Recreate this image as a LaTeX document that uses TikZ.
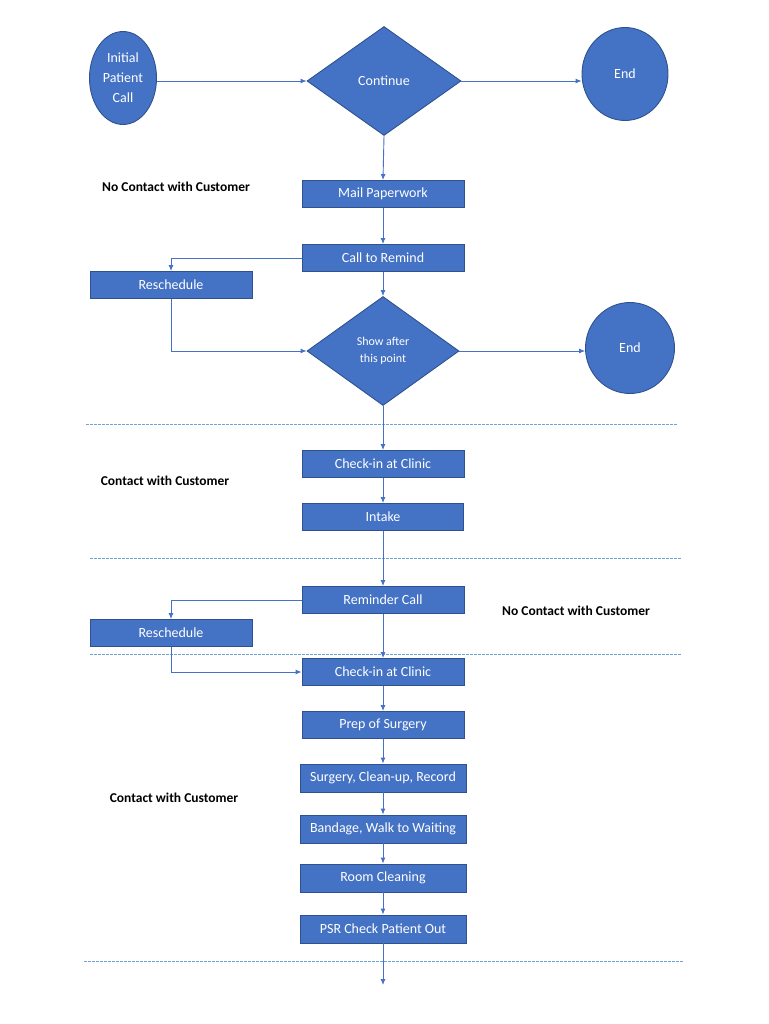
\documentclass[tikz,border=0pt]{standalone}
\usepackage{fontspec}
\setmainfont{Carlito}
\usetikzlibrary{shapes.geometric,arrows.meta}
\definecolor{bfill}{HTML}{4472C4}
\definecolor{bdraw}{HTML}{2F528F}
\definecolor{dline}{HTML}{6FA3D8}
\tikzset{
  box/.style={rectangle, fill=bfill, draw=bdraw, line width=0.9pt, text=white, font=\fontsize{14}{16}\selectfont, minimum width=162pt, minimum height=27pt, inner sep=0pt},
  wbox/.style={box, minimum width=166pt, minimum height=28pt},
  circ/.style={ellipse, fill=bfill, draw=bdraw, line width=0.9pt, text=white, font=\fontsize{14}{20}\selectfont, align=center, inner sep=0pt},
  dia/.style={diamond, fill=bfill, draw=bdraw, line width=0.9pt, text=white, align=center, inner sep=0pt, minimum width=154pt, minimum height=109pt},
  arr/.style={draw=bfill, line width=0.9pt, -{Latex[length=6pt,width=5pt]}},
  lab/.style={font=\bfseries\fontsize{13.5}{16}\selectfont, text=black},
  sep/.style={draw=dline, line width=0.6pt, dash pattern=on 2.5pt off 1.5pt}
}
\begin{document}
\begin{tikzpicture}[x=1pt,y=-1pt]
\useasboundingbox (0,0) rectangle (768,1024);
% top row
\node[circ, minimum width=67pt, minimum height=93pt] (init) at (123,78) {Initial\\Patient\\Call};
\node[dia, font=\fontsize{14}{16}\selectfont] (cont) at (384,81) {Continue};
\node[circ, minimum width=86pt, minimum height=93pt] (end1) at (625,74) {End};
\node[lab] (l1) at (176,187) {No Contact with Customer};
\node[box] (mail) at (383,194) {Mail Paperwork};
\node[box] (cr) at (383,258) {Call to Remind};
\node[box] (rs1) at (171,285) {Reschedule};
\node[dia, font=\fontsize{12}{17}\selectfont, minimum width=152pt] (show) at (383,351) {Show after\\this point};
\node[circ, minimum width=89pt, minimum height=91pt] (end2) at (630,348) {End};
\draw[sep] (86,424) -- (678,424);
\node[box] (ci1) at (383,464) {Check-in at Clinic};
\node[lab] (l2) at (165,481) {Contact with Customer};
\node[box, minimum width=161pt] (intake) at (383,517) {Intake};
\draw[sep] (90,558) -- (682,558);
\node[box] (rc) at (383,600) {Reminder Call};
\node[lab] (l3) at (576,611) {No Contact with Customer};
\node[box] (rs2) at (171,633) {Reschedule};
\draw[sep] (90,654) -- (682,654);
\node[box] (ci2) at (383,672) {Check-in at Clinic};
\node[box] (prep) at (383,725) {Prep of Surgery};
\node[wbox] (surg) at (383,778) {Surgery, Clean-up, Record};
\node[lab] (l4) at (174,798) {Contact with Customer};
\node[wbox] (band) at (383,829) {Bandage, Walk to Waiting};
\node[wbox] (room) at (383,878) {Room Cleaning};
\node[wbox] (psr) at (383,929) {PSR Check Patient Out};
\draw[sep] (84,961) -- (684,961);
\coordinate (fin) at (383,985);
% connectors
\draw[arr] (init.east |- cont.west) -- (cont.west);
\draw[arr] (cont.east) -- (cont.east -| end1.west);
\draw[arr] (cont.south) -- (mail.north);
\draw[arr] (mail.south) -- (cr.north);
\draw[arr] (cr.west) -| (rs1.north);
\draw[arr] (cr.south) -- (show.north);
\draw[arr] (rs1.south) |- (show.west);
\draw[arr] (show.east) -- (show.east -| end2.west);
\draw[arr] (show.south) -- (ci1.north);
\draw[arr] (ci1.south) -- (intake.north);
\draw[arr] (intake.south) -- (rc.north);
\draw[arr] (rc.west) -| (rs2.north);
\draw[arr] (rc.south) -- (ci2.north);
\draw[arr] (rs2.south) |- (ci2.west);
\draw[arr] (ci2.south) -- (prep.north);
\draw[arr] (prep.south) -- (surg.north);
\draw[arr] (surg.south) -- (band.north);
\draw[arr] (band.south) -- (room.north);
\draw[arr] (room.south) -- (psr.north);
\draw[arr] (psr.south) -- (fin);
\end{tikzpicture}
\end{document}
